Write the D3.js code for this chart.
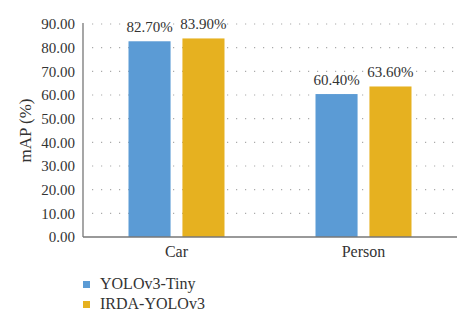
<!DOCTYPE html>
<html>
<head>
<meta charset="utf-8">
<script src="https://cdn.jsdelivr.net/npm/d3@7"></script>
<style>
  body { margin: 0; background: #fff; }
  svg text { font-family: "Liberation Serif", "DejaVu Serif", serif; fill: #333; }
</style>
</head>
<body>
<div class="canvas"></div>
<script>
// mAP per class for the two detectors
const categories = ["Car", "Person"];
const seriesNames = ["YOLOv3-Tiny", "IRDA-YOLOv3"];
const tinyValues = [82.7, 60.4];
const irdaValues = [83.9, 63.6];
const yTicks = [0, 10, 20, 30, 40, 50, 60, 70, 80, 90];
const colors = ["#5b9bd5", "#e6b120"];

const width = 474, height = 325;
const margin = { left: 83, right: 17, top: 24, bottom: 88 };

const svg = d3.select(".canvas").append("svg")
  .attr("width", width)
  .attr("height", height);

const x = d3.scaleBand()
  .domain(categories)
  .range([margin.left, width - margin.right]);

// bar pair sits in the middle of each category band
const groupW = 96;
const inner = d3.scaleBand()
  .domain(seriesNames)
  .range([(x.bandwidth() - groupW) / 2, (x.bandwidth() + groupW) / 2])
  .paddingInner(0.22);

const y = d3.scaleLinear()
  .domain([0, 90])
  .range([height - margin.bottom, margin.top]);

// dotted grid lines
svg.append("g")
  .selectAll("line")
  .data(yTicks.filter(d => d > 0))
  .join("line")
  .attr("x1", margin.left + 9)
  .attr("x2", width - margin.right)
  .attr("y1", d => y(d))
  .attr("y2", d => y(d))
  .attr("stroke", "#aaa")
  .attr("stroke-width", 1.2)
  .attr("stroke-dasharray", "1.2 7.8");

// y tick labels
svg.append("g")
  .selectAll("text")
  .data(yTicks)
  .join("text")
  .attr("x", margin.left - 8)
  .attr("y", d => y(d))
  .attr("dy", "0.35em")
  .attr("text-anchor", "end")
  .style("font-size", "15px")
  .text(d => d.toFixed(2));

// y axis title
svg.append("text")
  .attr("transform", `translate(25,${(y(0) + y(90)) / 2}) rotate(-90)`)
  .attr("text-anchor", "middle")
  .attr("dy", "0.35em")
  .style("font-size", "17px")
  .text("mAP (%)");

const data = [];
categories.forEach((c, i) => {
  data.push({ cat: c, series: seriesNames[0], value: tinyValues[i], color: colors[0] });
  data.push({ cat: c, series: seriesNames[1], value: irdaValues[i], color: colors[1] });
});

svg.append("g")
  .selectAll("rect")
  .data(data)
  .join("rect")
  .attr("x", d => x(d.cat) + inner(d.series))
  .attr("width", inner.bandwidth())
  .attr("y", d => y(d.value))
  .attr("height", d => y(0) - y(d.value))
  .attr("fill", d => d.color);

// value labels
svg.append("g")
  .selectAll("text")
  .data(data)
  .join("text")
  .attr("x", d => x(d.cat) + inner(d.series) + inner.bandwidth() / 2)
  .attr("y", d => y(d.value) - 9)
  .attr("text-anchor", "middle")
  .style("font-size", "15px")
  .text(d => d.value.toFixed(2) + "%");

// axes lines
svg.append("line")
  .attr("x1", margin.left).attr("x2", margin.left)
  .attr("y1", y(90) - 1).attr("y2", y(0))
  .attr("stroke", "#777").attr("stroke-width", 1.3);
svg.append("line")
  .attr("x1", margin.left).attr("x2", width - margin.right)
  .attr("y1", y(0)).attr("y2", y(0))
  .attr("stroke", "#777").attr("stroke-width", 1.5);

// category labels
svg.append("g")
  .selectAll("text")
  .data(categories)
  .join("text")
  .attr("x", d => x(d) + x.bandwidth() / 2)
  .attr("y", y(0) + 20)
  .attr("text-anchor", "middle")
  .style("font-size", "16px")
  .text(d => d);

// legend
const legend = svg.append("g")
  .selectAll("g")
  .data(seriesNames)
  .join("g")
  .attr("transform", (d, i) => `translate(83,${281 + i * 20})`);
legend.append("rect")
  .attr("width", 7).attr("height", 7)
  .attr("fill", (d, i) => colors[i]);
legend.append("text")
  .attr("x", 17)
  .attr("y", 7.5)
  .style("font-size", "16px")
  .text(d => d);
</script>
</body>
</html>
